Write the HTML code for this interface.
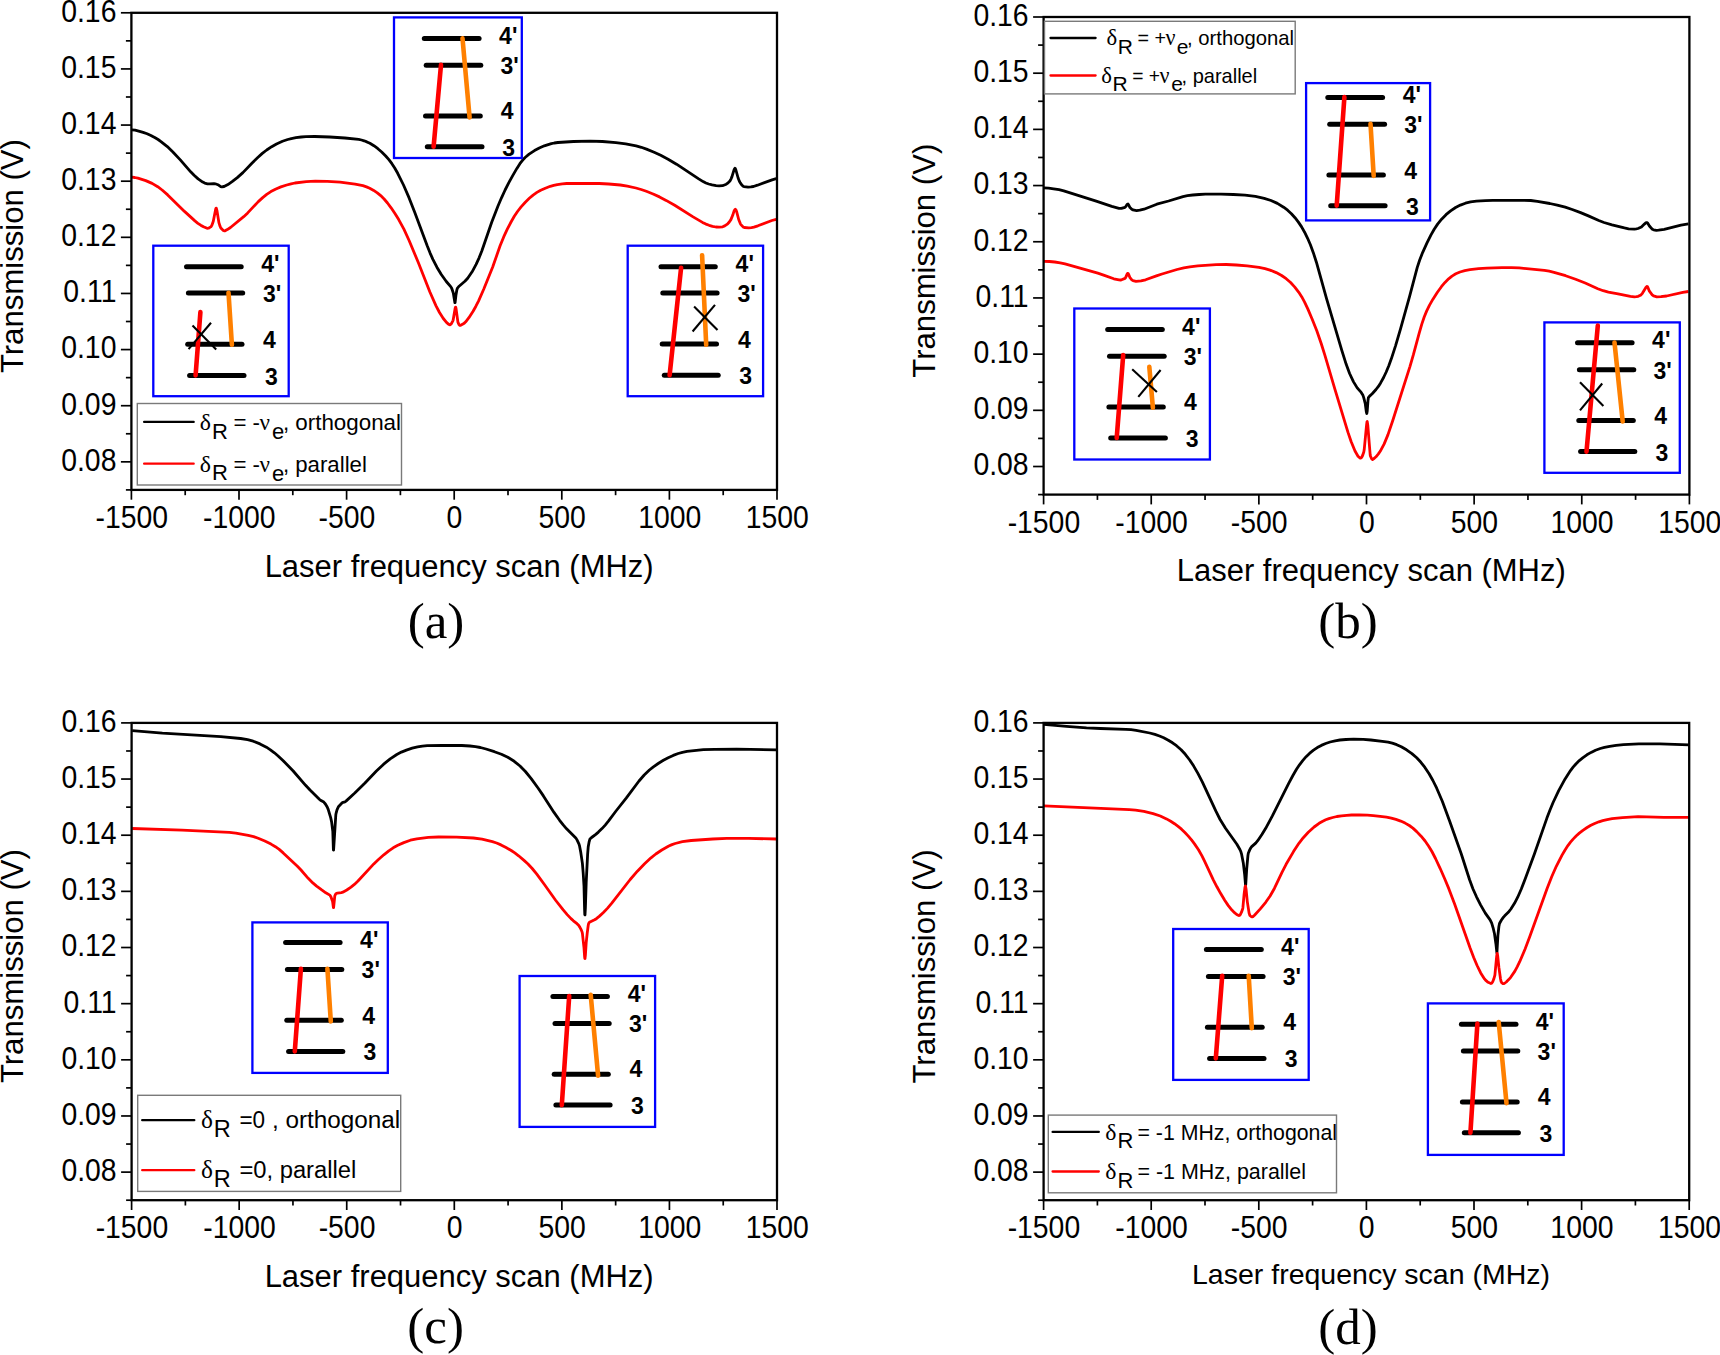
<!DOCTYPE html><html><head><meta charset="utf-8"><style>html,body{margin:0;padding:0;background:#fff;width:1720px;height:1355px;overflow:hidden}svg{display:block}</style></head><body>
<svg width="1720" height="1355" viewBox="0 0 1720 1355">
<rect width="1720" height="1355" fill="#fff"/>
<path d="M131.9,129.8 L135.1,130.2 L138.7,131.1 L143.1,132.4 L147.1,133.8 L150.9,135.5 L154.7,137.5 L158.1,139.5 L161.3,141.8 L167.3,146.6 L172.9,152.0 L180.3,159.9 L190.7,171.8 L194.1,175.3 L198.1,178.9 L202.7,182.1 L204.7,183.1 L207.5,183.8 L209.9,183.9 L213.9,183.6 L215.3,183.8 L217.9,184.7 L220.7,186.6 L221.9,186.9 L224.1,186.5 L227.9,184.6 L232.1,181.7 L237.3,177.6 L242.9,172.6 L251.9,163.2 L257.5,157.7 L262.3,153.4 L266.7,150.0 L271.7,146.7 L276.5,144.0 L282.5,141.3 L287.7,139.5 L291.3,138.6 L295.9,137.7 L301.3,137.0 L305.9,136.6 L314.7,136.5 L329.7,137.0 L344.9,138.0 L358.7,139.4 L361.5,140.0 L364.1,140.8 L366.9,141.9 L369.9,143.3 L373.9,145.7 L377.9,148.7 L381.7,152.0 L385.7,156.0 L388.9,159.7 L391.9,163.7 L394.7,168.0 L397.7,173.3 L403.5,185.0 L409.1,197.9 L414.7,212.2 L427.1,245.6 L430.1,253.1 L432.9,259.3 L436.9,267.2 L441.3,274.5 L446.3,281.5 L450.7,286.6 L451.7,288.3 L453.3,293.0 L454.9,302.7 L455.1,302.7 L455.9,295.5 L456.7,290.7 L457.3,288.3 L459.1,286.2 L464.9,281.3 L467.7,278.2 L472.1,271.8 L476.1,264.4 L479.1,257.8 L481.9,250.8 L491.7,222.3 L497.9,206.2 L501.5,197.8 L505.1,190.0 L508.7,182.9 L512.7,175.6 L516.9,168.4 L519.9,163.7 L522.5,160.3 L525.1,157.5 L529.1,154.2 L534.5,150.6 L539.3,148.0 L544.3,145.8 L551.3,143.6 L554.3,143.0 L557.9,142.5 L573.5,141.5 L590.3,141.2 L602.5,141.5 L615.9,142.6 L625.7,143.9 L636.1,145.9 L641.3,147.3 L646.5,149.1 L654.1,152.2 L660.7,155.3 L668.1,159.2 L676.5,164.2 L698.7,178.9 L703.1,181.6 L705.9,183.0 L708.7,184.0 L712.1,184.9 L716.1,185.6 L719.1,185.9 L722.5,185.7 L726.3,184.2 L728.1,182.9 L729.9,181.0 L731.1,178.8 L731.9,176.9 L734.1,169.7 L734.5,168.8 L734.9,168.3 L735.3,168.5 L735.9,170.0 L738.1,178.0 L739.5,181.5 L740.3,182.9 L742.1,185.3 L743.1,186.2 L743.9,186.6 L748.1,187.1 L750.9,186.9 L753.5,186.5 L757.5,185.2 L772.1,179.9 L776.2,178.7" fill="none" stroke="#000" stroke-width="2.8" stroke-linejoin="round" stroke-linecap="butt"/>
<path d="M131.9,177.1 L134.7,177.5 L137.9,178.2 L145.7,180.6 L152.1,183.4 L157.7,186.7 L162.1,190.0 L167.7,194.9 L184.5,211.4 L194.9,220.9 L197.9,223.3 L200.7,225.2 L203.5,226.8 L207.1,228.3 L208.5,228.2 L210.7,226.9 L211.3,226.3 L211.9,225.2 L213.3,221.2 L215.7,209.1 L216.1,208.1 L216.3,208.1 L216.9,210.3 L218.9,222.6 L219.9,225.9 L220.7,227.7 L221.3,228.6 L223.3,230.5 L224.5,230.9 L225.1,230.8 L227.3,229.6 L230.5,227.5 L243.7,216.7 L247.7,212.9 L258.3,201.6 L262.7,197.6 L266.7,194.4 L270.9,191.6 L275.9,189.0 L280.9,186.9 L286.7,185.0 L291.1,183.8 L294.9,183.0 L306.3,181.6 L315.3,181.1 L327.3,181.3 L340.1,182.2 L355.1,184.1 L362.9,185.7 L366.5,186.9 L369.7,188.2 L373.7,190.4 L377.3,192.8 L380.7,195.6 L384.1,199.0 L387.5,203.0 L391.1,207.8 L395.1,213.8 L398.7,219.6 L403.9,229.2 L409.1,240.5 L418.5,263.0 L429.9,292.0 L435.9,305.6 L439.5,312.5 L443.3,318.5 L446.7,322.7 L448.5,324.2 L449.7,324.8 L450.5,324.6 L451.3,323.8 L453.1,320.3 L455.1,308.4 L455.5,307.1 L455.7,307.1 L456.1,308.9 L457.9,322.1 L458.9,324.4 L459.9,325.4 L460.7,325.3 L462.9,324.1 L464.5,323.0 L465.7,321.8 L468.9,317.7 L473.1,311.2 L475.9,306.2 L478.5,301.1 L483.7,289.3 L492.7,267.0 L500.1,245.8 L503.7,236.9 L507.3,229.2 L511.3,221.5 L514.3,216.3 L517.5,211.5 L521.1,206.9 L525.3,202.2 L529.3,198.3 L533.1,195.1 L536.9,192.4 L540.7,190.2 L545.3,188.2 L550.3,186.3 L553.7,185.4 L557.3,184.6 L562.3,183.9 L566.7,183.5 L571.1,183.4 L599.3,183.5 L608.7,184.0 L620.3,185.0 L627.3,186.2 L635.9,188.0 L641.1,189.5 L646.3,191.3 L653.1,194.0 L659.5,196.9 L666.1,200.4 L674.7,205.3 L693.1,216.9 L702.5,222.4 L705.9,224.1 L709.1,225.3 L712.5,226.3 L715.9,227.0 L719.1,227.2 L722.7,226.8 L724.7,225.9 L727.7,223.8 L729.3,222.0 L730.9,219.6 L732.7,215.3 L734.1,210.9 L734.7,209.8 L735.3,209.3 L735.9,209.8 L736.5,211.2 L738.7,219.5 L740.3,223.6 L740.9,224.6 L742.5,226.3 L743.5,227.2 L744.3,227.5 L748.7,227.9 L751.5,227.6 L753.9,227.1 L757.9,225.8 L771.9,220.5 L776.2,219.3" fill="none" stroke="#ff0000" stroke-width="2.8" stroke-linejoin="round" stroke-linecap="butt"/>
<path d="M1043.8,187.9 L1048.6,188.2 L1053.6,188.8 L1059.0,189.7 L1063.8,190.9 L1096.2,201.1 L1111.8,206.3 L1119.0,208.3 L1120.2,208.4 L1121.4,208.4 L1125.0,207.3 L1125.6,206.7 L1127.2,204.4 L1127.6,204.1 L1128.0,204.0 L1128.6,204.8 L1130.0,207.6 L1131.8,209.3 L1133.0,209.9 L1136.6,210.6 L1139.8,210.2 L1144.0,209.2 L1156.8,204.2 L1168.6,201.0 L1183.0,196.6 L1187.4,195.7 L1192.8,195.0 L1199.2,194.5 L1205.4,194.2 L1221.0,194.1 L1233.4,194.5 L1245.0,195.2 L1255.4,196.4 L1264.2,198.3 L1271.0,200.5 L1277.4,203.4 L1283.6,207.2 L1287.6,210.2 L1291.4,213.7 L1295.0,217.7 L1298.4,222.1 L1301.6,226.9 L1304.6,232.2 L1307.6,238.3 L1310.4,244.8 L1313.4,252.9 L1316.4,262.2 L1326.4,298.2 L1341.8,350.3 L1346.2,364.3 L1349.6,373.5 L1353.4,381.6 L1357.2,387.9 L1361.2,392.4 L1362.8,394.9 L1363.8,397.9 L1365.2,403.3 L1366.4,412.2 L1366.8,413.5 L1367.2,411.3 L1368.0,400.5 L1368.4,397.6 L1369.6,396.1 L1372.2,393.8 L1376.0,389.5 L1378.4,386.4 L1380.6,382.9 L1383.6,377.5 L1386.2,372.0 L1388.8,365.7 L1391.4,358.6 L1395.6,345.6 L1400.6,328.6 L1409.6,296.4 L1417.2,267.6 L1419.6,260.2 L1422.6,252.6 L1427.0,242.9 L1431.0,234.9 L1434.2,229.2 L1437.6,224.1 L1441.6,219.2 L1446.0,214.7 L1450.6,210.9 L1455.6,207.5 L1460.4,205.1 L1465.4,203.2 L1470.6,201.9 L1476.4,201.2 L1485.4,200.6 L1492.8,200.3 L1524.2,200.3 L1530.8,200.5 L1537.4,201.3 L1549.8,203.5 L1557.2,205.1 L1565.2,207.2 L1572.2,209.5 L1580.6,212.6 L1587.8,215.6 L1598.8,220.5 L1604.0,222.5 L1612.0,224.8 L1624.4,227.9 L1628.6,228.8 L1634.4,229.1 L1636.2,228.9 L1638.0,228.5 L1641.4,227.0 L1644.4,224.1 L1645.8,222.9 L1646.6,222.6 L1647.2,222.7 L1647.6,223.1 L1649.4,226.0 L1652.2,229.2 L1653.6,229.8 L1656.4,230.3 L1658.6,230.2 L1664.2,229.3 L1681.0,225.1 L1688.4,223.9" fill="none" stroke="#000" stroke-width="2.8" stroke-linejoin="round" stroke-linecap="butt"/>
<path d="M1043.8,261.3 L1049.4,261.5 L1054.8,262.0 L1060.2,262.8 L1065.0,263.9 L1097.8,273.2 L1103.6,275.1 L1113.8,278.8 L1119.0,279.9 L1120.4,280.0 L1121.6,279.8 L1125.0,278.4 L1125.6,277.6 L1127.2,273.9 L1127.6,273.4 L1128.0,273.3 L1128.6,274.2 L1130.0,277.7 L1131.8,279.9 L1133.0,280.7 L1136.0,281.4 L1141.0,280.9 L1145.6,279.8 L1156.4,275.9 L1162.0,274.0 L1177.0,269.5 L1183.8,267.8 L1189.8,266.8 L1197.8,265.8 L1216.2,264.7 L1226.2,264.5 L1236.4,265.0 L1247.2,265.9 L1259.0,267.4 L1265.0,268.6 L1270.0,270.1 L1276.2,272.6 L1281.6,275.5 L1286.2,278.7 L1290.6,282.5 L1294.8,287.1 L1298.8,292.3 L1301.8,296.9 L1304.6,302.1 L1307.8,308.9 L1312.0,318.7 L1316.8,330.8 L1321.2,343.5 L1325.0,355.7 L1334.8,388.8 L1348.0,432.4 L1351.2,441.8 L1355.0,451.0 L1358.0,456.2 L1360.0,458.1 L1360.6,458.2 L1361.2,457.8 L1361.8,457.1 L1362.6,455.5 L1363.8,452.0 L1364.2,449.8 L1366.6,424.6 L1367.0,421.8 L1367.2,421.5 L1367.8,425.3 L1370.2,455.0 L1370.4,456.0 L1371.4,458.3 L1372.0,459.1 L1372.6,459.5 L1373.6,458.9 L1376.0,456.8 L1378.4,453.9 L1380.2,451.3 L1384.2,443.9 L1388.0,434.6 L1392.6,421.0 L1410.0,366.3 L1413.4,354.7 L1419.2,333.1 L1421.8,324.1 L1424.2,317.0 L1426.6,311.1 L1429.4,305.4 L1432.8,299.4 L1437.4,292.2 L1441.4,286.7 L1445.0,282.4 L1448.6,278.8 L1452.0,276.1 L1455.8,273.8 L1460.0,272.0 L1464.8,270.6 L1470.0,269.7 L1478.6,268.7 L1487.0,268.1 L1502.0,267.6 L1511.6,267.6 L1519.2,267.9 L1544.4,270.4 L1549.2,271.2 L1554.0,272.3 L1565.6,275.7 L1575.6,279.2 L1585.2,283.0 L1597.8,288.7 L1603.2,290.7 L1608.4,292.1 L1618.0,293.8 L1630.4,296.4 L1634.4,296.8 L1636.4,296.7 L1638.2,296.3 L1641.0,294.9 L1642.4,293.3 L1646.2,287.0 L1647.0,286.4 L1647.4,286.6 L1647.8,287.3 L1649.4,291.2 L1652.2,294.8 L1653.6,295.9 L1656.8,296.8 L1661.0,296.7 L1666.6,296.0 L1682.8,292.4 L1688.4,291.5" fill="none" stroke="#ff0000" stroke-width="2.8" stroke-linejoin="round" stroke-linecap="butt"/>
<path d="M132.2,730.7 L162.4,733.2 L220.8,736.7 L240.6,738.5 L247.6,739.7 L253.2,741.2 L260.0,743.9 L266.4,747.2 L270.4,749.8 L274.4,752.8 L278.4,756.2 L283.2,760.7 L293.2,771.0 L305.6,785.3 L310.0,790.0 L319.6,799.5 L321.0,800.6 L323.8,802.1 L325.4,804.0 L327.2,807.0 L328.2,809.4 L330.6,817.3 L331.6,821.9 L332.8,831.3 L333.4,849.9 L333.6,850.0 L335.8,815.0 L336.0,813.6 L337.0,809.9 L338.4,806.7 L342.2,802.8 L343.2,802.3 L345.0,801.8 L346.0,801.1 L354.8,793.0 L365.0,783.0 L376.4,771.0 L383.4,764.4 L390.2,758.8 L396.8,754.5 L401.4,752.1 L406.4,750.1 L412.2,748.2 L417.6,746.9 L422.4,746.1 L427.2,745.6 L442.2,745.3 L461.8,745.5 L470.0,746.0 L475.4,746.6 L480.4,747.5 L486.0,749.0 L494.4,751.7 L501.4,754.2 L507.8,757.3 L514.2,761.3 L520.0,766.0 L525.4,771.5 L531.2,778.6 L538.2,788.2 L543.4,795.9 L554.0,812.4 L559.6,820.3 L563.2,824.9 L566.6,828.8 L575.8,837.9 L577.0,839.9 L579.0,844.1 L579.6,846.2 L580.8,852.6 L582.4,863.4 L583.2,873.1 L584.0,886.2 L584.6,909.9 L584.8,914.8 L585.0,914.9 L585.4,907.4 L586.2,882.4 L587.6,854.7 L588.2,847.1 L589.0,842.4 L589.8,839.4 L590.2,838.8 L591.6,837.5 L595.8,834.4 L598.4,832.1 L602.0,828.6 L605.2,825.1 L608.6,820.9 L616.0,811.0 L626.2,798.2 L639.0,781.0 L644.2,775.0 L649.4,770.0 L653.4,766.8 L658.2,763.5 L663.4,760.3 L668.2,757.7 L673.2,755.4 L678.2,753.5 L682.4,752.3 L687.0,751.4 L703.4,749.7 L714.6,749.3 L736.6,749.2 L776.3,749.9" fill="none" stroke="#000" stroke-width="2.8" stroke-linejoin="round" stroke-linecap="butt"/>
<path d="M132.2,828.5 L182.0,830.1 L229.4,832.4 L235.8,833.2 L248.2,835.4 L253.6,836.6 L258.2,838.2 L264.8,841.0 L271.0,844.1 L275.4,846.7 L279.2,849.4 L283.2,852.9 L297.4,866.2 L301.0,870.0 L308.2,878.3 L312.8,882.9 L316.6,886.1 L321.4,889.7 L325.8,892.8 L329.8,895.1 L331.0,897.0 L332.6,901.5 L333.4,907.5 L333.6,907.5 L334.8,895.8 L335.6,894.2 L336.2,893.5 L337.4,893.1 L341.4,892.6 L342.8,892.2 L346.8,890.0 L351.0,887.1 L354.4,884.4 L358.0,881.0 L373.8,863.9 L378.2,859.7 L383.8,854.8 L388.8,850.8 L393.2,847.8 L397.8,845.3 L403.8,842.6 L410.4,840.2 L416.8,838.8 L428.4,837.4 L438.6,837.0 L456.6,837.1 L473.4,838.0 L482.0,839.2 L492.4,841.7 L496.6,843.0 L501.0,844.9 L506.0,847.5 L511.2,850.5 L514.8,852.9 L518.6,855.8 L524.0,860.4 L528.0,864.0 L532.2,868.5 L536.8,874.2 L544.4,884.5 L555.8,900.5 L563.0,909.7 L567.2,914.6 L571.0,918.6 L573.4,920.8 L577.0,923.7 L578.6,925.3 L579.8,927.1 L581.0,929.4 L582.0,931.7 L582.4,933.4 L584.0,947.8 L584.6,956.7 L584.8,958.4 L585.0,958.5 L585.4,955.0 L586.2,942.7 L587.2,933.3 L588.2,925.5 L588.6,923.6 L589.0,922.8 L590.0,921.9 L594.6,919.8 L596.4,918.7 L599.2,916.4 L603.4,912.5 L607.6,908.1 L611.8,903.2 L630.2,879.5 L637.4,871.2 L644.6,863.8 L651.0,857.8 L655.8,854.0 L661.8,850.0 L668.8,846.0 L672.0,844.6 L675.2,843.5 L682.4,841.7 L691.2,840.5 L712.8,839.0 L726.8,838.4 L748.6,838.4 L776.3,839.0" fill="none" stroke="#ff0000" stroke-width="2.8" stroke-linejoin="round" stroke-linecap="butt"/>
<path d="M1043.7,724.3 L1066.5,726.3 L1086.5,727.8 L1100.5,728.5 L1125.9,729.3 L1131.1,729.7 L1136.1,730.3 L1149.7,733.0 L1154.9,734.4 L1159.5,736.0 L1163.7,737.7 L1168.3,740.2 L1172.5,742.8 L1176.5,745.7 L1181.1,749.7 L1185.3,754.3 L1189.7,760.0 L1193.7,766.1 L1197.9,773.4 L1202.3,781.9 L1215.9,811.2 L1220.1,819.5 L1225.5,828.2 L1236.9,844.3 L1239.9,849.5 L1240.9,851.8 L1241.5,853.8 L1243.3,862.9 L1244.7,874.8 L1245.5,884.7 L1245.7,884.8 L1246.7,868.8 L1247.9,855.8 L1248.3,853.3 L1249.7,849.9 L1250.7,848.0 L1251.7,846.6 L1255.7,843.1 L1257.7,840.7 L1261.9,834.5 L1265.7,828.3 L1272.5,815.7 L1288.7,783.3 L1292.9,775.5 L1296.5,769.3 L1299.5,764.8 L1302.7,760.6 L1306.1,756.7 L1309.5,753.4 L1313.5,750.2 L1317.3,747.6 L1321.3,745.4 L1325.7,743.5 L1330.1,742.0 L1335.1,740.8 L1339.9,740.0 L1345.9,739.5 L1353.7,739.2 L1363.3,739.4 L1370.9,740.0 L1382.3,741.3 L1388.1,742.2 L1392.3,743.2 L1396.7,744.7 L1401.3,746.8 L1406.5,749.8 L1411.9,753.6 L1416.7,757.8 L1420.9,762.3 L1424.9,767.4 L1429.1,773.8 L1432.9,780.5 L1436.7,788.2 L1442.3,801.3 L1449.5,820.8 L1461.3,854.0 L1469.5,879.5 L1472.9,888.7 L1476.5,896.8 L1480.7,905.1 L1485.3,913.1 L1490.1,919.9 L1491.7,923.2 L1493.1,927.8 L1494.5,933.7 L1495.9,943.7 L1496.9,952.8 L1497.9,935.3 L1498.9,926.5 L1499.5,923.5 L1501.3,920.3 L1503.3,917.4 L1504.7,915.8 L1508.3,912.3 L1510.9,909.0 L1514.5,903.3 L1517.7,897.2 L1521.3,889.0 L1525.9,877.1 L1534.3,854.2 L1546.9,818.1 L1550.1,809.7 L1553.1,802.5 L1558.7,790.6 L1565.1,778.9 L1570.5,770.6 L1573.1,767.2 L1575.9,764.0 L1579.3,760.6 L1582.7,757.8 L1586.9,754.8 L1591.1,752.4 L1595.5,750.3 L1600.3,748.5 L1604.5,747.3 L1609.7,746.3 L1616.1,745.4 L1623.5,744.6 L1638.9,743.8 L1659.9,743.9 L1689.1,744.9" fill="none" stroke="#000" stroke-width="2.8" stroke-linejoin="round" stroke-linecap="butt"/>
<path d="M1043.7,805.9 L1129.3,809.7 L1135.5,810.2 L1143.9,811.4 L1153.1,813.6 L1160.3,816.0 L1166.5,818.9 L1170.7,821.3 L1174.5,823.7 L1178.1,826.4 L1181.5,829.2 L1184.9,832.5 L1188.3,836.1 L1191.5,839.9 L1194.5,843.9 L1198.5,849.8 L1202.1,856.1 L1204.9,861.8 L1213.3,879.8 L1216.9,886.8 L1220.7,893.6 L1224.7,900.2 L1228.3,905.6 L1231.9,910.1 L1234.5,912.7 L1236.7,914.5 L1238.7,915.5 L1239.1,915.6 L1239.7,915.3 L1240.3,914.6 L1241.5,912.2 L1242.7,908.8 L1242.9,907.7 L1244.1,894.2 L1244.9,887.9 L1245.3,886.1 L1245.5,885.9 L1246.1,889.3 L1247.3,901.6 L1249.1,913.1 L1249.9,915.5 L1251.1,916.5 L1252.1,916.9 L1252.9,916.6 L1254.5,915.2 L1260.3,908.9 L1265.7,902.3 L1270.1,896.0 L1274.5,888.2 L1282.1,872.1 L1286.1,864.3 L1293.5,851.6 L1298.9,843.3 L1303.3,837.7 L1308.3,832.3 L1314.1,827.0 L1319.1,823.3 L1322.3,821.5 L1325.7,819.8 L1328.9,818.6 L1332.7,817.5 L1336.9,816.5 L1341.5,815.8 L1346.7,815.3 L1351.5,815.0 L1359.3,815.0 L1367.3,815.2 L1373.3,815.6 L1380.1,816.3 L1386.5,817.2 L1391.3,818.2 L1395.9,819.4 L1400.7,821.1 L1405.1,823.1 L1409.3,825.5 L1412.9,828.1 L1416.7,831.6 L1421.1,836.2 L1425.1,841.0 L1428.7,846.2 L1431.9,851.5 L1435.5,858.5 L1440.1,868.3 L1444.9,879.2 L1448.9,888.9 L1454.7,904.3 L1470.1,948.0 L1473.7,957.5 L1477.1,965.5 L1480.7,972.9 L1484.5,978.9 L1486.1,980.7 L1488.1,982.3 L1490.9,983.5 L1491.7,983.2 L1492.7,981.8 L1493.7,979.3 L1494.9,975.2 L1496.7,955.9 L1497.1,953.4 L1497.3,953.6 L1497.7,955.9 L1498.9,967.4 L1500.5,978.8 L1501.1,981.6 L1501.9,982.9 L1502.9,983.6 L1503.7,983.7 L1504.3,983.5 L1506.3,982.0 L1508.7,979.6 L1510.7,977.3 L1514.9,971.1 L1517.3,966.7 L1519.7,961.7 L1525.1,949.0 L1529.9,936.3 L1547.1,888.5 L1551.7,876.8 L1556.3,866.3 L1561.9,855.4 L1564.9,850.2 L1567.9,845.6 L1570.5,842.1 L1573.1,839.1 L1576.1,836.0 L1579.3,833.1 L1582.9,830.3 L1587.1,827.5 L1590.9,825.3 L1594.7,823.5 L1598.9,821.8 L1602.7,820.6 L1607.1,819.6 L1612.1,818.7 L1622.5,817.6 L1638.1,816.7 L1663.9,817.3 L1689.1,817.4" fill="none" stroke="#ff0000" stroke-width="2.8" stroke-linejoin="round" stroke-linecap="butt"/>
<rect x="131.40" y="12.80" width="645.60" height="477.10" fill="none" stroke="#000" stroke-width="2.30"/>
<line x1="125.90" y1="489.90" x2="131.40" y2="489.90" stroke="#000" stroke-width="1.70" stroke-linecap="butt"/>
<line x1="120.90" y1="461.84" x2="131.40" y2="461.84" stroke="#000" stroke-width="1.70" stroke-linecap="butt"/>
<text transform="translate(116.40 470.74) scale(0.93 1)" font-family='"Liberation Sans", sans-serif' font-size="30.5" text-anchor="end">0.08</text>
<line x1="125.90" y1="433.77" x2="131.40" y2="433.77" stroke="#000" stroke-width="1.70" stroke-linecap="butt"/>
<line x1="120.90" y1="405.71" x2="131.40" y2="405.71" stroke="#000" stroke-width="1.70" stroke-linecap="butt"/>
<text transform="translate(116.40 414.61) scale(0.93 1)" font-family='"Liberation Sans", sans-serif' font-size="30.5" text-anchor="end">0.09</text>
<line x1="125.90" y1="377.64" x2="131.40" y2="377.64" stroke="#000" stroke-width="1.70" stroke-linecap="butt"/>
<line x1="120.90" y1="349.58" x2="131.40" y2="349.58" stroke="#000" stroke-width="1.70" stroke-linecap="butt"/>
<text transform="translate(116.40 358.48) scale(0.93 1)" font-family='"Liberation Sans", sans-serif' font-size="30.5" text-anchor="end">0.10</text>
<line x1="125.90" y1="321.51" x2="131.40" y2="321.51" stroke="#000" stroke-width="1.70" stroke-linecap="butt"/>
<line x1="120.90" y1="293.45" x2="131.40" y2="293.45" stroke="#000" stroke-width="1.70" stroke-linecap="butt"/>
<text transform="translate(116.40 302.35) scale(0.93 1)" font-family='"Liberation Sans", sans-serif' font-size="30.5" text-anchor="end">0.11</text>
<line x1="125.90" y1="265.38" x2="131.40" y2="265.38" stroke="#000" stroke-width="1.70" stroke-linecap="butt"/>
<line x1="120.90" y1="237.32" x2="131.40" y2="237.32" stroke="#000" stroke-width="1.70" stroke-linecap="butt"/>
<text transform="translate(116.40 246.22) scale(0.93 1)" font-family='"Liberation Sans", sans-serif' font-size="30.5" text-anchor="end">0.12</text>
<line x1="125.90" y1="209.25" x2="131.40" y2="209.25" stroke="#000" stroke-width="1.70" stroke-linecap="butt"/>
<line x1="120.90" y1="181.19" x2="131.40" y2="181.19" stroke="#000" stroke-width="1.70" stroke-linecap="butt"/>
<text transform="translate(116.40 190.09) scale(0.93 1)" font-family='"Liberation Sans", sans-serif' font-size="30.5" text-anchor="end">0.13</text>
<line x1="125.90" y1="153.12" x2="131.40" y2="153.12" stroke="#000" stroke-width="1.70" stroke-linecap="butt"/>
<line x1="120.90" y1="125.06" x2="131.40" y2="125.06" stroke="#000" stroke-width="1.70" stroke-linecap="butt"/>
<text transform="translate(116.40 133.96) scale(0.93 1)" font-family='"Liberation Sans", sans-serif' font-size="30.5" text-anchor="end">0.14</text>
<line x1="125.90" y1="96.99" x2="131.40" y2="96.99" stroke="#000" stroke-width="1.70" stroke-linecap="butt"/>
<line x1="120.90" y1="68.93" x2="131.40" y2="68.93" stroke="#000" stroke-width="1.70" stroke-linecap="butt"/>
<text transform="translate(116.40 77.83) scale(0.93 1)" font-family='"Liberation Sans", sans-serif' font-size="30.5" text-anchor="end">0.15</text>
<line x1="125.90" y1="40.86" x2="131.40" y2="40.86" stroke="#000" stroke-width="1.70" stroke-linecap="butt"/>
<line x1="120.90" y1="12.80" x2="131.40" y2="12.80" stroke="#000" stroke-width="1.70" stroke-linecap="butt"/>
<text transform="translate(116.40 21.70) scale(0.93 1)" font-family='"Liberation Sans", sans-serif' font-size="30.5" text-anchor="end">0.16</text>
<line x1="131.40" y1="489.90" x2="131.40" y2="499.70" stroke="#000" stroke-width="1.70" stroke-linecap="butt"/>
<text transform="translate(131.70 527.80) scale(0.93 1)" font-family='"Liberation Sans", sans-serif' font-size="30.5" text-anchor="middle">-1500</text>
<line x1="185.20" y1="489.90" x2="185.20" y2="495.20" stroke="#000" stroke-width="1.70" stroke-linecap="butt"/>
<line x1="239.00" y1="489.90" x2="239.00" y2="499.70" stroke="#000" stroke-width="1.70" stroke-linecap="butt"/>
<text transform="translate(239.30 527.80) scale(0.93 1)" font-family='"Liberation Sans", sans-serif' font-size="30.5" text-anchor="middle">-1000</text>
<line x1="292.80" y1="489.90" x2="292.80" y2="495.20" stroke="#000" stroke-width="1.70" stroke-linecap="butt"/>
<line x1="346.60" y1="489.90" x2="346.60" y2="499.70" stroke="#000" stroke-width="1.70" stroke-linecap="butt"/>
<text transform="translate(346.90 527.80) scale(0.93 1)" font-family='"Liberation Sans", sans-serif' font-size="30.5" text-anchor="middle">-500</text>
<line x1="400.40" y1="489.90" x2="400.40" y2="495.20" stroke="#000" stroke-width="1.70" stroke-linecap="butt"/>
<line x1="454.20" y1="489.90" x2="454.20" y2="499.70" stroke="#000" stroke-width="1.70" stroke-linecap="butt"/>
<text transform="translate(454.50 527.80) scale(0.93 1)" font-family='"Liberation Sans", sans-serif' font-size="30.5" text-anchor="middle">0</text>
<line x1="508.00" y1="489.90" x2="508.00" y2="495.20" stroke="#000" stroke-width="1.70" stroke-linecap="butt"/>
<line x1="561.80" y1="489.90" x2="561.80" y2="499.70" stroke="#000" stroke-width="1.70" stroke-linecap="butt"/>
<text transform="translate(562.10 527.80) scale(0.93 1)" font-family='"Liberation Sans", sans-serif' font-size="30.5" text-anchor="middle">500</text>
<line x1="615.60" y1="489.90" x2="615.60" y2="495.20" stroke="#000" stroke-width="1.70" stroke-linecap="butt"/>
<line x1="669.40" y1="489.90" x2="669.40" y2="499.70" stroke="#000" stroke-width="1.70" stroke-linecap="butt"/>
<text transform="translate(669.70 527.80) scale(0.93 1)" font-family='"Liberation Sans", sans-serif' font-size="30.5" text-anchor="middle">1000</text>
<line x1="723.20" y1="489.90" x2="723.20" y2="495.20" stroke="#000" stroke-width="1.70" stroke-linecap="butt"/>
<line x1="777.00" y1="489.90" x2="777.00" y2="499.70" stroke="#000" stroke-width="1.70" stroke-linecap="butt"/>
<text transform="translate(777.30 527.80) scale(0.93 1)" font-family='"Liberation Sans", sans-serif' font-size="30.5" text-anchor="middle">1500</text>
<rect x="1043.60" y="17.00" width="645.80" height="477.60" fill="none" stroke="#000" stroke-width="2.30"/>
<line x1="1038.10" y1="494.60" x2="1043.60" y2="494.60" stroke="#000" stroke-width="1.70" stroke-linecap="butt"/>
<line x1="1033.10" y1="466.51" x2="1043.60" y2="466.51" stroke="#000" stroke-width="1.70" stroke-linecap="butt"/>
<text transform="translate(1028.60 475.41) scale(0.93 1)" font-family='"Liberation Sans", sans-serif' font-size="30.5" text-anchor="end">0.08</text>
<line x1="1038.10" y1="438.41" x2="1043.60" y2="438.41" stroke="#000" stroke-width="1.70" stroke-linecap="butt"/>
<line x1="1033.10" y1="410.32" x2="1043.60" y2="410.32" stroke="#000" stroke-width="1.70" stroke-linecap="butt"/>
<text transform="translate(1028.60 419.22) scale(0.93 1)" font-family='"Liberation Sans", sans-serif' font-size="30.5" text-anchor="end">0.09</text>
<line x1="1038.10" y1="382.22" x2="1043.60" y2="382.22" stroke="#000" stroke-width="1.70" stroke-linecap="butt"/>
<line x1="1033.10" y1="354.13" x2="1043.60" y2="354.13" stroke="#000" stroke-width="1.70" stroke-linecap="butt"/>
<text transform="translate(1028.60 363.03) scale(0.93 1)" font-family='"Liberation Sans", sans-serif' font-size="30.5" text-anchor="end">0.10</text>
<line x1="1038.10" y1="326.04" x2="1043.60" y2="326.04" stroke="#000" stroke-width="1.70" stroke-linecap="butt"/>
<line x1="1033.10" y1="297.94" x2="1043.60" y2="297.94" stroke="#000" stroke-width="1.70" stroke-linecap="butt"/>
<text transform="translate(1028.60 306.84) scale(0.93 1)" font-family='"Liberation Sans", sans-serif' font-size="30.5" text-anchor="end">0.11</text>
<line x1="1038.10" y1="269.85" x2="1043.60" y2="269.85" stroke="#000" stroke-width="1.70" stroke-linecap="butt"/>
<line x1="1033.10" y1="241.75" x2="1043.60" y2="241.75" stroke="#000" stroke-width="1.70" stroke-linecap="butt"/>
<text transform="translate(1028.60 250.65) scale(0.93 1)" font-family='"Liberation Sans", sans-serif' font-size="30.5" text-anchor="end">0.12</text>
<line x1="1038.10" y1="213.66" x2="1043.60" y2="213.66" stroke="#000" stroke-width="1.70" stroke-linecap="butt"/>
<line x1="1033.10" y1="185.56" x2="1043.60" y2="185.56" stroke="#000" stroke-width="1.70" stroke-linecap="butt"/>
<text transform="translate(1028.60 194.46) scale(0.93 1)" font-family='"Liberation Sans", sans-serif' font-size="30.5" text-anchor="end">0.13</text>
<line x1="1038.10" y1="157.47" x2="1043.60" y2="157.47" stroke="#000" stroke-width="1.70" stroke-linecap="butt"/>
<line x1="1033.10" y1="129.38" x2="1043.60" y2="129.38" stroke="#000" stroke-width="1.70" stroke-linecap="butt"/>
<text transform="translate(1028.60 138.28) scale(0.93 1)" font-family='"Liberation Sans", sans-serif' font-size="30.5" text-anchor="end">0.14</text>
<line x1="1038.10" y1="101.28" x2="1043.60" y2="101.28" stroke="#000" stroke-width="1.70" stroke-linecap="butt"/>
<line x1="1033.10" y1="73.19" x2="1043.60" y2="73.19" stroke="#000" stroke-width="1.70" stroke-linecap="butt"/>
<text transform="translate(1028.60 82.09) scale(0.93 1)" font-family='"Liberation Sans", sans-serif' font-size="30.5" text-anchor="end">0.15</text>
<line x1="1038.10" y1="45.09" x2="1043.60" y2="45.09" stroke="#000" stroke-width="1.70" stroke-linecap="butt"/>
<line x1="1033.10" y1="17.00" x2="1043.60" y2="17.00" stroke="#000" stroke-width="1.70" stroke-linecap="butt"/>
<text transform="translate(1028.60 25.90) scale(0.93 1)" font-family='"Liberation Sans", sans-serif' font-size="30.5" text-anchor="end">0.16</text>
<line x1="1043.60" y1="494.60" x2="1043.60" y2="504.40" stroke="#000" stroke-width="1.70" stroke-linecap="butt"/>
<text transform="translate(1043.90 532.50) scale(0.93 1)" font-family='"Liberation Sans", sans-serif' font-size="30.5" text-anchor="middle">-1500</text>
<line x1="1097.42" y1="494.60" x2="1097.42" y2="499.90" stroke="#000" stroke-width="1.70" stroke-linecap="butt"/>
<line x1="1151.23" y1="494.60" x2="1151.23" y2="504.40" stroke="#000" stroke-width="1.70" stroke-linecap="butt"/>
<text transform="translate(1151.53 532.50) scale(0.93 1)" font-family='"Liberation Sans", sans-serif' font-size="30.5" text-anchor="middle">-1000</text>
<line x1="1205.05" y1="494.60" x2="1205.05" y2="499.90" stroke="#000" stroke-width="1.70" stroke-linecap="butt"/>
<line x1="1258.87" y1="494.60" x2="1258.87" y2="504.40" stroke="#000" stroke-width="1.70" stroke-linecap="butt"/>
<text transform="translate(1259.17 532.50) scale(0.93 1)" font-family='"Liberation Sans", sans-serif' font-size="30.5" text-anchor="middle">-500</text>
<line x1="1312.68" y1="494.60" x2="1312.68" y2="499.90" stroke="#000" stroke-width="1.70" stroke-linecap="butt"/>
<line x1="1366.50" y1="494.60" x2="1366.50" y2="504.40" stroke="#000" stroke-width="1.70" stroke-linecap="butt"/>
<text transform="translate(1366.80 532.50) scale(0.93 1)" font-family='"Liberation Sans", sans-serif' font-size="30.5" text-anchor="middle">0</text>
<line x1="1420.32" y1="494.60" x2="1420.32" y2="499.90" stroke="#000" stroke-width="1.70" stroke-linecap="butt"/>
<line x1="1474.13" y1="494.60" x2="1474.13" y2="504.40" stroke="#000" stroke-width="1.70" stroke-linecap="butt"/>
<text transform="translate(1474.43 532.50) scale(0.93 1)" font-family='"Liberation Sans", sans-serif' font-size="30.5" text-anchor="middle">500</text>
<line x1="1527.95" y1="494.60" x2="1527.95" y2="499.90" stroke="#000" stroke-width="1.70" stroke-linecap="butt"/>
<line x1="1581.77" y1="494.60" x2="1581.77" y2="504.40" stroke="#000" stroke-width="1.70" stroke-linecap="butt"/>
<text transform="translate(1582.07 532.50) scale(0.93 1)" font-family='"Liberation Sans", sans-serif' font-size="30.5" text-anchor="middle">1000</text>
<line x1="1635.58" y1="494.60" x2="1635.58" y2="499.90" stroke="#000" stroke-width="1.70" stroke-linecap="butt"/>
<line x1="1689.40" y1="494.60" x2="1689.40" y2="504.40" stroke="#000" stroke-width="1.70" stroke-linecap="butt"/>
<text transform="translate(1689.70 532.50) scale(0.93 1)" font-family='"Liberation Sans", sans-serif' font-size="30.5" text-anchor="middle">1500</text>
<rect x="131.60" y="722.90" width="645.40" height="477.30" fill="none" stroke="#000" stroke-width="2.30"/>
<line x1="126.10" y1="1200.20" x2="131.60" y2="1200.20" stroke="#000" stroke-width="1.70" stroke-linecap="butt"/>
<line x1="121.10" y1="1172.12" x2="131.60" y2="1172.12" stroke="#000" stroke-width="1.70" stroke-linecap="butt"/>
<text transform="translate(116.60 1181.02) scale(0.93 1)" font-family='"Liberation Sans", sans-serif' font-size="30.5" text-anchor="end">0.08</text>
<line x1="126.10" y1="1144.05" x2="131.60" y2="1144.05" stroke="#000" stroke-width="1.70" stroke-linecap="butt"/>
<line x1="121.10" y1="1115.97" x2="131.60" y2="1115.97" stroke="#000" stroke-width="1.70" stroke-linecap="butt"/>
<text transform="translate(116.60 1124.87) scale(0.93 1)" font-family='"Liberation Sans", sans-serif' font-size="30.5" text-anchor="end">0.09</text>
<line x1="126.10" y1="1087.89" x2="131.60" y2="1087.89" stroke="#000" stroke-width="1.70" stroke-linecap="butt"/>
<line x1="121.10" y1="1059.82" x2="131.60" y2="1059.82" stroke="#000" stroke-width="1.70" stroke-linecap="butt"/>
<text transform="translate(116.60 1068.72) scale(0.93 1)" font-family='"Liberation Sans", sans-serif' font-size="30.5" text-anchor="end">0.10</text>
<line x1="126.10" y1="1031.74" x2="131.60" y2="1031.74" stroke="#000" stroke-width="1.70" stroke-linecap="butt"/>
<line x1="121.10" y1="1003.66" x2="131.60" y2="1003.66" stroke="#000" stroke-width="1.70" stroke-linecap="butt"/>
<text transform="translate(116.60 1012.56) scale(0.93 1)" font-family='"Liberation Sans", sans-serif' font-size="30.5" text-anchor="end">0.11</text>
<line x1="126.10" y1="975.59" x2="131.60" y2="975.59" stroke="#000" stroke-width="1.70" stroke-linecap="butt"/>
<line x1="121.10" y1="947.51" x2="131.60" y2="947.51" stroke="#000" stroke-width="1.70" stroke-linecap="butt"/>
<text transform="translate(116.60 956.41) scale(0.93 1)" font-family='"Liberation Sans", sans-serif' font-size="30.5" text-anchor="end">0.12</text>
<line x1="126.10" y1="919.44" x2="131.60" y2="919.44" stroke="#000" stroke-width="1.70" stroke-linecap="butt"/>
<line x1="121.10" y1="891.36" x2="131.60" y2="891.36" stroke="#000" stroke-width="1.70" stroke-linecap="butt"/>
<text transform="translate(116.60 900.26) scale(0.93 1)" font-family='"Liberation Sans", sans-serif' font-size="30.5" text-anchor="end">0.13</text>
<line x1="126.10" y1="863.28" x2="131.60" y2="863.28" stroke="#000" stroke-width="1.70" stroke-linecap="butt"/>
<line x1="121.10" y1="835.21" x2="131.60" y2="835.21" stroke="#000" stroke-width="1.70" stroke-linecap="butt"/>
<text transform="translate(116.60 844.11) scale(0.93 1)" font-family='"Liberation Sans", sans-serif' font-size="30.5" text-anchor="end">0.14</text>
<line x1="126.10" y1="807.13" x2="131.60" y2="807.13" stroke="#000" stroke-width="1.70" stroke-linecap="butt"/>
<line x1="121.10" y1="779.05" x2="131.60" y2="779.05" stroke="#000" stroke-width="1.70" stroke-linecap="butt"/>
<text transform="translate(116.60 787.95) scale(0.93 1)" font-family='"Liberation Sans", sans-serif' font-size="30.5" text-anchor="end">0.15</text>
<line x1="126.10" y1="750.98" x2="131.60" y2="750.98" stroke="#000" stroke-width="1.70" stroke-linecap="butt"/>
<line x1="121.10" y1="722.90" x2="131.60" y2="722.90" stroke="#000" stroke-width="1.70" stroke-linecap="butt"/>
<text transform="translate(116.60 731.80) scale(0.93 1)" font-family='"Liberation Sans", sans-serif' font-size="30.5" text-anchor="end">0.16</text>
<line x1="131.60" y1="1200.20" x2="131.60" y2="1210.00" stroke="#000" stroke-width="1.70" stroke-linecap="butt"/>
<text transform="translate(131.90 1238.10) scale(0.93 1)" font-family='"Liberation Sans", sans-serif' font-size="30.5" text-anchor="middle">-1500</text>
<line x1="185.38" y1="1200.20" x2="185.38" y2="1205.50" stroke="#000" stroke-width="1.70" stroke-linecap="butt"/>
<line x1="239.17" y1="1200.20" x2="239.17" y2="1210.00" stroke="#000" stroke-width="1.70" stroke-linecap="butt"/>
<text transform="translate(239.47 1238.10) scale(0.93 1)" font-family='"Liberation Sans", sans-serif' font-size="30.5" text-anchor="middle">-1000</text>
<line x1="292.95" y1="1200.20" x2="292.95" y2="1205.50" stroke="#000" stroke-width="1.70" stroke-linecap="butt"/>
<line x1="346.73" y1="1200.20" x2="346.73" y2="1210.00" stroke="#000" stroke-width="1.70" stroke-linecap="butt"/>
<text transform="translate(347.03 1238.10) scale(0.93 1)" font-family='"Liberation Sans", sans-serif' font-size="30.5" text-anchor="middle">-500</text>
<line x1="400.52" y1="1200.20" x2="400.52" y2="1205.50" stroke="#000" stroke-width="1.70" stroke-linecap="butt"/>
<line x1="454.30" y1="1200.20" x2="454.30" y2="1210.00" stroke="#000" stroke-width="1.70" stroke-linecap="butt"/>
<text transform="translate(454.60 1238.10) scale(0.93 1)" font-family='"Liberation Sans", sans-serif' font-size="30.5" text-anchor="middle">0</text>
<line x1="508.08" y1="1200.20" x2="508.08" y2="1205.50" stroke="#000" stroke-width="1.70" stroke-linecap="butt"/>
<line x1="561.87" y1="1200.20" x2="561.87" y2="1210.00" stroke="#000" stroke-width="1.70" stroke-linecap="butt"/>
<text transform="translate(562.17 1238.10) scale(0.93 1)" font-family='"Liberation Sans", sans-serif' font-size="30.5" text-anchor="middle">500</text>
<line x1="615.65" y1="1200.20" x2="615.65" y2="1205.50" stroke="#000" stroke-width="1.70" stroke-linecap="butt"/>
<line x1="669.43" y1="1200.20" x2="669.43" y2="1210.00" stroke="#000" stroke-width="1.70" stroke-linecap="butt"/>
<text transform="translate(669.73 1238.10) scale(0.93 1)" font-family='"Liberation Sans", sans-serif' font-size="30.5" text-anchor="middle">1000</text>
<line x1="723.22" y1="1200.20" x2="723.22" y2="1205.50" stroke="#000" stroke-width="1.70" stroke-linecap="butt"/>
<line x1="777.00" y1="1200.20" x2="777.00" y2="1210.00" stroke="#000" stroke-width="1.70" stroke-linecap="butt"/>
<text transform="translate(777.30 1238.10) scale(0.93 1)" font-family='"Liberation Sans", sans-serif' font-size="30.5" text-anchor="middle">1500</text>
<rect x="1043.60" y="722.90" width="645.60" height="477.30" fill="none" stroke="#000" stroke-width="2.30"/>
<line x1="1038.10" y1="1200.20" x2="1043.60" y2="1200.20" stroke="#000" stroke-width="1.70" stroke-linecap="butt"/>
<line x1="1033.10" y1="1172.12" x2="1043.60" y2="1172.12" stroke="#000" stroke-width="1.70" stroke-linecap="butt"/>
<text transform="translate(1028.60 1181.02) scale(0.93 1)" font-family='"Liberation Sans", sans-serif' font-size="30.5" text-anchor="end">0.08</text>
<line x1="1038.10" y1="1144.05" x2="1043.60" y2="1144.05" stroke="#000" stroke-width="1.70" stroke-linecap="butt"/>
<line x1="1033.10" y1="1115.97" x2="1043.60" y2="1115.97" stroke="#000" stroke-width="1.70" stroke-linecap="butt"/>
<text transform="translate(1028.60 1124.87) scale(0.93 1)" font-family='"Liberation Sans", sans-serif' font-size="30.5" text-anchor="end">0.09</text>
<line x1="1038.10" y1="1087.89" x2="1043.60" y2="1087.89" stroke="#000" stroke-width="1.70" stroke-linecap="butt"/>
<line x1="1033.10" y1="1059.82" x2="1043.60" y2="1059.82" stroke="#000" stroke-width="1.70" stroke-linecap="butt"/>
<text transform="translate(1028.60 1068.72) scale(0.93 1)" font-family='"Liberation Sans", sans-serif' font-size="30.5" text-anchor="end">0.10</text>
<line x1="1038.10" y1="1031.74" x2="1043.60" y2="1031.74" stroke="#000" stroke-width="1.70" stroke-linecap="butt"/>
<line x1="1033.10" y1="1003.66" x2="1043.60" y2="1003.66" stroke="#000" stroke-width="1.70" stroke-linecap="butt"/>
<text transform="translate(1028.60 1012.56) scale(0.93 1)" font-family='"Liberation Sans", sans-serif' font-size="30.5" text-anchor="end">0.11</text>
<line x1="1038.10" y1="975.59" x2="1043.60" y2="975.59" stroke="#000" stroke-width="1.70" stroke-linecap="butt"/>
<line x1="1033.10" y1="947.51" x2="1043.60" y2="947.51" stroke="#000" stroke-width="1.70" stroke-linecap="butt"/>
<text transform="translate(1028.60 956.41) scale(0.93 1)" font-family='"Liberation Sans", sans-serif' font-size="30.5" text-anchor="end">0.12</text>
<line x1="1038.10" y1="919.44" x2="1043.60" y2="919.44" stroke="#000" stroke-width="1.70" stroke-linecap="butt"/>
<line x1="1033.10" y1="891.36" x2="1043.60" y2="891.36" stroke="#000" stroke-width="1.70" stroke-linecap="butt"/>
<text transform="translate(1028.60 900.26) scale(0.93 1)" font-family='"Liberation Sans", sans-serif' font-size="30.5" text-anchor="end">0.13</text>
<line x1="1038.10" y1="863.28" x2="1043.60" y2="863.28" stroke="#000" stroke-width="1.70" stroke-linecap="butt"/>
<line x1="1033.10" y1="835.21" x2="1043.60" y2="835.21" stroke="#000" stroke-width="1.70" stroke-linecap="butt"/>
<text transform="translate(1028.60 844.11) scale(0.93 1)" font-family='"Liberation Sans", sans-serif' font-size="30.5" text-anchor="end">0.14</text>
<line x1="1038.10" y1="807.13" x2="1043.60" y2="807.13" stroke="#000" stroke-width="1.70" stroke-linecap="butt"/>
<line x1="1033.10" y1="779.05" x2="1043.60" y2="779.05" stroke="#000" stroke-width="1.70" stroke-linecap="butt"/>
<text transform="translate(1028.60 787.95) scale(0.93 1)" font-family='"Liberation Sans", sans-serif' font-size="30.5" text-anchor="end">0.15</text>
<line x1="1038.10" y1="750.98" x2="1043.60" y2="750.98" stroke="#000" stroke-width="1.70" stroke-linecap="butt"/>
<line x1="1033.10" y1="722.90" x2="1043.60" y2="722.90" stroke="#000" stroke-width="1.70" stroke-linecap="butt"/>
<text transform="translate(1028.60 731.80) scale(0.93 1)" font-family='"Liberation Sans", sans-serif' font-size="30.5" text-anchor="end">0.16</text>
<line x1="1043.60" y1="1200.20" x2="1043.60" y2="1210.00" stroke="#000" stroke-width="1.70" stroke-linecap="butt"/>
<text transform="translate(1043.90 1238.10) scale(0.93 1)" font-family='"Liberation Sans", sans-serif' font-size="30.5" text-anchor="middle">-1500</text>
<line x1="1097.40" y1="1200.20" x2="1097.40" y2="1205.50" stroke="#000" stroke-width="1.70" stroke-linecap="butt"/>
<line x1="1151.20" y1="1200.20" x2="1151.20" y2="1210.00" stroke="#000" stroke-width="1.70" stroke-linecap="butt"/>
<text transform="translate(1151.50 1238.10) scale(0.93 1)" font-family='"Liberation Sans", sans-serif' font-size="30.5" text-anchor="middle">-1000</text>
<line x1="1205.00" y1="1200.20" x2="1205.00" y2="1205.50" stroke="#000" stroke-width="1.70" stroke-linecap="butt"/>
<line x1="1258.80" y1="1200.20" x2="1258.80" y2="1210.00" stroke="#000" stroke-width="1.70" stroke-linecap="butt"/>
<text transform="translate(1259.10 1238.10) scale(0.93 1)" font-family='"Liberation Sans", sans-serif' font-size="30.5" text-anchor="middle">-500</text>
<line x1="1312.60" y1="1200.20" x2="1312.60" y2="1205.50" stroke="#000" stroke-width="1.70" stroke-linecap="butt"/>
<line x1="1366.40" y1="1200.20" x2="1366.40" y2="1210.00" stroke="#000" stroke-width="1.70" stroke-linecap="butt"/>
<text transform="translate(1366.70 1238.10) scale(0.93 1)" font-family='"Liberation Sans", sans-serif' font-size="30.5" text-anchor="middle">0</text>
<line x1="1420.20" y1="1200.20" x2="1420.20" y2="1205.50" stroke="#000" stroke-width="1.70" stroke-linecap="butt"/>
<line x1="1474.00" y1="1200.20" x2="1474.00" y2="1210.00" stroke="#000" stroke-width="1.70" stroke-linecap="butt"/>
<text transform="translate(1474.30 1238.10) scale(0.93 1)" font-family='"Liberation Sans", sans-serif' font-size="30.5" text-anchor="middle">500</text>
<line x1="1527.80" y1="1200.20" x2="1527.80" y2="1205.50" stroke="#000" stroke-width="1.70" stroke-linecap="butt"/>
<line x1="1581.60" y1="1200.20" x2="1581.60" y2="1210.00" stroke="#000" stroke-width="1.70" stroke-linecap="butt"/>
<text transform="translate(1581.90 1238.10) scale(0.93 1)" font-family='"Liberation Sans", sans-serif' font-size="30.5" text-anchor="middle">1000</text>
<line x1="1635.40" y1="1200.20" x2="1635.40" y2="1205.50" stroke="#000" stroke-width="1.70" stroke-linecap="butt"/>
<line x1="1689.20" y1="1200.20" x2="1689.20" y2="1210.00" stroke="#000" stroke-width="1.70" stroke-linecap="butt"/>
<text transform="translate(1689.50 1238.10) scale(0.93 1)" font-family='"Liberation Sans", sans-serif' font-size="30.5" text-anchor="middle">1500</text>
<text x="459.15" y="576.60" font-family='"Liberation Sans", sans-serif' font-size="31.00" font-weight="normal" text-anchor="middle" textLength="389.0" lengthAdjust="spacingAndGlyphs">Laser frequency scan (MHz)</text>
<text x="1371.25" y="581.10" font-family='"Liberation Sans", sans-serif' font-size="31.00" font-weight="normal" text-anchor="middle" textLength="389.0" lengthAdjust="spacingAndGlyphs">Laser frequency scan (MHz)</text>
<text x="459.15" y="1286.60" font-family='"Liberation Sans", sans-serif' font-size="31.00" font-weight="normal" text-anchor="middle" textLength="389.0" lengthAdjust="spacingAndGlyphs">Laser frequency scan (MHz)</text>
<text x="1371.00" y="1284.40" font-family='"Liberation Sans", sans-serif' font-size="28.00" font-weight="normal" text-anchor="middle" textLength="358.0" lengthAdjust="spacingAndGlyphs">Laser frequency scan (MHz)</text>
<text x="0" y="0" transform="translate(23.20 256.10) rotate(-90)" font-family='"Liberation Sans", sans-serif' font-size="32" text-anchor="middle" textLength="234" lengthAdjust="spacingAndGlyphs">Transmission (V)</text>
<text x="0" y="0" transform="translate(934.80 260.70) rotate(-90)" font-family='"Liberation Sans", sans-serif' font-size="32" text-anchor="middle" textLength="234" lengthAdjust="spacingAndGlyphs">Transmission (V)</text>
<text x="0" y="0" transform="translate(23.20 966.10) rotate(-90)" font-family='"Liberation Sans", sans-serif' font-size="32" text-anchor="middle" textLength="234" lengthAdjust="spacingAndGlyphs">Transmission (V)</text>
<text x="0" y="0" transform="translate(935.00 966.50) rotate(-90)" font-family='"Liberation Sans", sans-serif' font-size="32" text-anchor="middle" textLength="234" lengthAdjust="spacingAndGlyphs">Transmission (V)</text>
<text x="436.00" y="637.60" font-family='"Liberation Serif", serif' font-size="51.00" font-weight="normal" text-anchor="middle">(a)</text>
<text x="1348.00" y="638.00" font-family='"Liberation Serif", serif' font-size="51.00" font-weight="normal" text-anchor="middle">(b)</text>
<text x="435.60" y="1343.00" font-family='"Liberation Serif", serif' font-size="51.00" font-weight="normal" text-anchor="middle">(c)</text>
<text x="1348.00" y="1344.00" font-family='"Liberation Serif", serif' font-size="51.00" font-weight="normal" text-anchor="middle">(d)</text>
<rect x="394.00" y="17.40" width="127.80" height="140.60" fill="none" stroke="#0000ff" stroke-width="2.3"/>
<line x1="424.30" y1="38.40" x2="479.10" y2="38.40" stroke="#000" stroke-width="5.00" stroke-linecap="round"/>
<line x1="426.20" y1="65.20" x2="480.80" y2="65.20" stroke="#000" stroke-width="5.00" stroke-linecap="round"/>
<line x1="425.50" y1="116.10" x2="480.30" y2="116.10" stroke="#000" stroke-width="5.00" stroke-linecap="round"/>
<line x1="427.30" y1="146.70" x2="482.00" y2="146.70" stroke="#000" stroke-width="5.00" stroke-linecap="round"/>
<line x1="433.60" y1="146.70" x2="441.00" y2="64.90" stroke="#ff0000" stroke-width="4.60" stroke-linecap="round"/>
<line x1="462.50" y1="38.40" x2="469.60" y2="117.50" stroke="#ff8000" stroke-width="4.60" stroke-linecap="round"/>
<text x="499.10" y="43.70" font-family='"Liberation Sans", sans-serif' font-size="23.00" font-weight="bold" text-anchor="start">4'</text>
<text x="500.50" y="74.00" font-family='"Liberation Sans", sans-serif' font-size="23.00" font-weight="bold" text-anchor="start">3'</text>
<text x="500.70" y="119.20" font-family='"Liberation Sans", sans-serif' font-size="23.00" font-weight="bold" text-anchor="start">4</text>
<text x="502.20" y="155.80" font-family='"Liberation Sans", sans-serif' font-size="23.00" font-weight="bold" text-anchor="start">3</text>
<rect x="153.30" y="245.70" width="135.40" height="150.50" fill="none" stroke="#0000ff" stroke-width="2.3"/>
<line x1="186.50" y1="266.70" x2="241.20" y2="266.70" stroke="#000" stroke-width="5.00" stroke-linecap="round"/>
<line x1="188.40" y1="293.10" x2="242.70" y2="293.10" stroke="#000" stroke-width="5.00" stroke-linecap="round"/>
<line x1="187.70" y1="344.20" x2="242.00" y2="344.20" stroke="#000" stroke-width="5.00" stroke-linecap="round"/>
<line x1="189.60" y1="375.40" x2="244.00" y2="375.40" stroke="#000" stroke-width="5.00" stroke-linecap="round"/>
<line x1="195.60" y1="375.40" x2="200.40" y2="312.10" stroke="#ff0000" stroke-width="4.60" stroke-linecap="round"/>
<line x1="228.50" y1="292.70" x2="231.90" y2="344.80" stroke="#ff8000" stroke-width="4.60" stroke-linecap="round"/>
<line x1="192.50" y1="325.40" x2="216.20" y2="349.40" stroke="#000" stroke-width="2.10" stroke-linecap="butt"/>
<line x1="211.00" y1="322.70" x2="188.60" y2="349.10" stroke="#000" stroke-width="2.10" stroke-linecap="butt"/>
<text x="261.20" y="271.90" font-family='"Liberation Sans", sans-serif' font-size="23.00" font-weight="bold" text-anchor="start">4'</text>
<text x="263.00" y="302.20" font-family='"Liberation Sans", sans-serif' font-size="23.00" font-weight="bold" text-anchor="start">3'</text>
<text x="263.00" y="347.60" font-family='"Liberation Sans", sans-serif' font-size="23.00" font-weight="bold" text-anchor="start">4</text>
<text x="264.90" y="384.50" font-family='"Liberation Sans", sans-serif' font-size="23.00" font-weight="bold" text-anchor="start">3</text>
<rect x="627.70" y="245.70" width="135.40" height="150.50" fill="none" stroke="#0000ff" stroke-width="2.3"/>
<line x1="661.00" y1="266.70" x2="715.30" y2="266.70" stroke="#000" stroke-width="5.00" stroke-linecap="round"/>
<line x1="662.80" y1="293.10" x2="717.10" y2="293.10" stroke="#000" stroke-width="5.00" stroke-linecap="round"/>
<line x1="662.20" y1="343.90" x2="716.50" y2="343.90" stroke="#000" stroke-width="5.00" stroke-linecap="round"/>
<line x1="664.30" y1="375.20" x2="718.20" y2="375.20" stroke="#000" stroke-width="5.00" stroke-linecap="round"/>
<line x1="669.60" y1="375.20" x2="681.10" y2="267.70" stroke="#ff0000" stroke-width="4.60" stroke-linecap="round"/>
<line x1="702.10" y1="255.20" x2="706.20" y2="344.80" stroke="#ff8000" stroke-width="4.60" stroke-linecap="round"/>
<line x1="694.10" y1="306.40" x2="717.50" y2="330.00" stroke="#000" stroke-width="2.10" stroke-linecap="butt"/>
<line x1="715.00" y1="304.80" x2="692.60" y2="331.50" stroke="#000" stroke-width="2.10" stroke-linecap="butt"/>
<text x="735.60" y="271.90" font-family='"Liberation Sans", sans-serif' font-size="23.00" font-weight="bold" text-anchor="start">4'</text>
<text x="737.40" y="302.20" font-family='"Liberation Sans", sans-serif' font-size="23.00" font-weight="bold" text-anchor="start">3'</text>
<text x="738.00" y="347.60" font-family='"Liberation Sans", sans-serif' font-size="23.00" font-weight="bold" text-anchor="start">4</text>
<text x="739.20" y="384.20" font-family='"Liberation Sans", sans-serif' font-size="23.00" font-weight="bold" text-anchor="start">3</text>
<rect x="1306.10" y="83.10" width="124.00" height="137.30" fill="none" stroke="#0000ff" stroke-width="2.3"/>
<line x1="1327.80" y1="97.50" x2="1382.60" y2="97.50" stroke="#000" stroke-width="5.00" stroke-linecap="round"/>
<line x1="1329.70" y1="124.20" x2="1384.60" y2="124.20" stroke="#000" stroke-width="5.00" stroke-linecap="round"/>
<line x1="1328.90" y1="175.10" x2="1383.40" y2="175.10" stroke="#000" stroke-width="5.00" stroke-linecap="round"/>
<line x1="1330.70" y1="205.70" x2="1385.10" y2="205.70" stroke="#000" stroke-width="5.00" stroke-linecap="round"/>
<line x1="1336.70" y1="205.70" x2="1344.40" y2="97.00" stroke="#ff0000" stroke-width="4.60" stroke-linecap="round"/>
<line x1="1370.50" y1="123.90" x2="1373.70" y2="175.90" stroke="#ff8000" stroke-width="4.60" stroke-linecap="round"/>
<text x="1402.70" y="103.00" font-family='"Liberation Sans", sans-serif' font-size="23.00" font-weight="bold" text-anchor="start">4'</text>
<text x="1404.20" y="133.30" font-family='"Liberation Sans", sans-serif' font-size="23.00" font-weight="bold" text-anchor="start">3'</text>
<text x="1404.20" y="178.50" font-family='"Liberation Sans", sans-serif' font-size="23.00" font-weight="bold" text-anchor="start">4</text>
<text x="1405.90" y="214.70" font-family='"Liberation Sans", sans-serif' font-size="23.00" font-weight="bold" text-anchor="start">3</text>
<rect x="1074.30" y="308.50" width="135.60" height="151.00" fill="none" stroke="#0000ff" stroke-width="2.3"/>
<line x1="1107.70" y1="329.50" x2="1162.30" y2="329.50" stroke="#000" stroke-width="5.00" stroke-linecap="round"/>
<line x1="1109.50" y1="356.30" x2="1164.20" y2="356.30" stroke="#000" stroke-width="5.00" stroke-linecap="round"/>
<line x1="1108.90" y1="407.10" x2="1163.30" y2="407.10" stroke="#000" stroke-width="5.00" stroke-linecap="round"/>
<line x1="1110.70" y1="438.00" x2="1165.40" y2="438.00" stroke="#000" stroke-width="5.00" stroke-linecap="round"/>
<line x1="1116.70" y1="438.00" x2="1123.20" y2="355.00" stroke="#ff0000" stroke-width="4.60" stroke-linecap="round"/>
<line x1="1149.30" y1="366.70" x2="1152.90" y2="407.80" stroke="#ff8000" stroke-width="4.60" stroke-linecap="round"/>
<line x1="1132.20" y1="369.20" x2="1156.90" y2="391.90" stroke="#000" stroke-width="2.10" stroke-linecap="butt"/>
<line x1="1160.60" y1="370.00" x2="1138.30" y2="396.80" stroke="#000" stroke-width="2.10" stroke-linecap="butt"/>
<text x="1182.10" y="335.30" font-family='"Liberation Sans", sans-serif' font-size="23.00" font-weight="bold" text-anchor="start">4'</text>
<text x="1183.70" y="365.10" font-family='"Liberation Sans", sans-serif' font-size="23.00" font-weight="bold" text-anchor="start">3'</text>
<text x="1184.10" y="410.20" font-family='"Liberation Sans", sans-serif' font-size="23.00" font-weight="bold" text-anchor="start">4</text>
<text x="1185.80" y="447.30" font-family='"Liberation Sans", sans-serif' font-size="23.00" font-weight="bold" text-anchor="start">3</text>
<rect x="1544.40" y="322.40" width="135.40" height="150.40" fill="none" stroke="#0000ff" stroke-width="2.3"/>
<line x1="1577.50" y1="342.80" x2="1632.10" y2="342.80" stroke="#000" stroke-width="5.00" stroke-linecap="round"/>
<line x1="1579.40" y1="369.70" x2="1633.80" y2="369.70" stroke="#000" stroke-width="5.00" stroke-linecap="round"/>
<line x1="1578.80" y1="420.40" x2="1633.30" y2="420.40" stroke="#000" stroke-width="5.00" stroke-linecap="round"/>
<line x1="1580.60" y1="451.60" x2="1634.80" y2="451.60" stroke="#000" stroke-width="5.00" stroke-linecap="round"/>
<line x1="1586.50" y1="451.60" x2="1597.80" y2="325.60" stroke="#ff0000" stroke-width="4.60" stroke-linecap="round"/>
<line x1="1614.50" y1="342.60" x2="1622.70" y2="421.40" stroke="#ff8000" stroke-width="4.60" stroke-linecap="round"/>
<line x1="1580.00" y1="382.20" x2="1603.40" y2="406.00" stroke="#000" stroke-width="2.10" stroke-linecap="butt"/>
<line x1="1602.20" y1="383.50" x2="1580.00" y2="410.30" stroke="#000" stroke-width="2.10" stroke-linecap="butt"/>
<text x="1652.10" y="348.10" font-family='"Liberation Sans", sans-serif' font-size="23.00" font-weight="bold" text-anchor="start">4'</text>
<text x="1653.50" y="378.90" font-family='"Liberation Sans", sans-serif' font-size="23.00" font-weight="bold" text-anchor="start">3'</text>
<text x="1654.30" y="423.90" font-family='"Liberation Sans", sans-serif' font-size="23.00" font-weight="bold" text-anchor="start">4</text>
<text x="1655.50" y="460.90" font-family='"Liberation Sans", sans-serif' font-size="23.00" font-weight="bold" text-anchor="start">3</text>
<rect x="252.40" y="922.40" width="135.40" height="150.50" fill="none" stroke="#0000ff" stroke-width="2.3"/>
<line x1="285.60" y1="942.60" x2="340.10" y2="942.60" stroke="#000" stroke-width="5.00" stroke-linecap="round"/>
<line x1="287.40" y1="969.50" x2="341.80" y2="969.50" stroke="#000" stroke-width="5.00" stroke-linecap="round"/>
<line x1="286.80" y1="1020.20" x2="341.30" y2="1020.20" stroke="#000" stroke-width="5.00" stroke-linecap="round"/>
<line x1="288.60" y1="1051.40" x2="342.80" y2="1051.40" stroke="#000" stroke-width="5.00" stroke-linecap="round"/>
<line x1="294.80" y1="1051.40" x2="300.90" y2="968.70" stroke="#ff0000" stroke-width="4.60" stroke-linecap="round"/>
<line x1="327.40" y1="968.70" x2="330.80" y2="1021.50" stroke="#ff8000" stroke-width="4.60" stroke-linecap="round"/>
<text x="360.10" y="948.10" font-family='"Liberation Sans", sans-serif' font-size="23.00" font-weight="bold" text-anchor="start">4'</text>
<text x="361.60" y="978.30" font-family='"Liberation Sans", sans-serif' font-size="23.00" font-weight="bold" text-anchor="start">3'</text>
<text x="362.30" y="1024.00" font-family='"Liberation Sans", sans-serif' font-size="23.00" font-weight="bold" text-anchor="start">4</text>
<text x="363.60" y="1060.30" font-family='"Liberation Sans", sans-serif' font-size="23.00" font-weight="bold" text-anchor="start">3</text>
<rect x="519.60" y="976.00" width="135.50" height="150.90" fill="none" stroke="#0000ff" stroke-width="2.3"/>
<line x1="552.90" y1="996.60" x2="607.40" y2="996.60" stroke="#000" stroke-width="5.00" stroke-linecap="round"/>
<line x1="555.00" y1="1023.50" x2="609.20" y2="1023.50" stroke="#000" stroke-width="5.00" stroke-linecap="round"/>
<line x1="554.20" y1="1074.20" x2="608.30" y2="1074.20" stroke="#000" stroke-width="5.00" stroke-linecap="round"/>
<line x1="555.90" y1="1105.10" x2="610.10" y2="1105.10" stroke="#000" stroke-width="5.00" stroke-linecap="round"/>
<line x1="561.80" y1="1105.10" x2="569.20" y2="996.00" stroke="#ff0000" stroke-width="4.60" stroke-linecap="round"/>
<line x1="590.70" y1="994.70" x2="598.10" y2="1075.70" stroke="#ff8000" stroke-width="4.60" stroke-linecap="round"/>
<text x="627.70" y="1002.10" font-family='"Liberation Sans", sans-serif' font-size="23.00" font-weight="bold" text-anchor="start">4'</text>
<text x="629.00" y="1032.30" font-family='"Liberation Sans", sans-serif' font-size="23.00" font-weight="bold" text-anchor="start">3'</text>
<text x="629.60" y="1077.30" font-family='"Liberation Sans", sans-serif' font-size="23.00" font-weight="bold" text-anchor="start">4</text>
<text x="631.10" y="1114.30" font-family='"Liberation Sans", sans-serif' font-size="23.00" font-weight="bold" text-anchor="start">3</text>
<rect x="1173.20" y="929.00" width="135.50" height="150.90" fill="none" stroke="#0000ff" stroke-width="2.3"/>
<line x1="1206.40" y1="949.60" x2="1261.30" y2="949.60" stroke="#000" stroke-width="5.00" stroke-linecap="round"/>
<line x1="1208.40" y1="976.50" x2="1263.10" y2="976.50" stroke="#000" stroke-width="5.00" stroke-linecap="round"/>
<line x1="1207.40" y1="1027.20" x2="1262.20" y2="1027.20" stroke="#000" stroke-width="5.00" stroke-linecap="round"/>
<line x1="1209.60" y1="1058.40" x2="1264.00" y2="1058.40" stroke="#000" stroke-width="5.00" stroke-linecap="round"/>
<line x1="1215.80" y1="1058.40" x2="1222.20" y2="975.70" stroke="#ff0000" stroke-width="4.60" stroke-linecap="round"/>
<line x1="1248.70" y1="975.70" x2="1251.80" y2="1028.20" stroke="#ff8000" stroke-width="4.60" stroke-linecap="round"/>
<text x="1281.10" y="955.10" font-family='"Liberation Sans", sans-serif' font-size="23.00" font-weight="bold" text-anchor="start">4'</text>
<text x="1282.80" y="985.30" font-family='"Liberation Sans", sans-serif' font-size="23.00" font-weight="bold" text-anchor="start">3'</text>
<text x="1283.20" y="1030.30" font-family='"Liberation Sans", sans-serif' font-size="23.00" font-weight="bold" text-anchor="start">4</text>
<text x="1284.80" y="1067.30" font-family='"Liberation Sans", sans-serif' font-size="23.00" font-weight="bold" text-anchor="start">3</text>
<rect x="1427.90" y="1003.40" width="135.80" height="151.50" fill="none" stroke="#0000ff" stroke-width="2.3"/>
<line x1="1461.40" y1="1024.30" x2="1516.00" y2="1024.30" stroke="#000" stroke-width="5.00" stroke-linecap="round"/>
<line x1="1463.40" y1="1051.10" x2="1517.80" y2="1051.10" stroke="#000" stroke-width="5.00" stroke-linecap="round"/>
<line x1="1462.40" y1="1102.00" x2="1517.20" y2="1102.00" stroke="#000" stroke-width="5.00" stroke-linecap="round"/>
<line x1="1464.30" y1="1132.80" x2="1518.40" y2="1132.80" stroke="#000" stroke-width="5.00" stroke-linecap="round"/>
<line x1="1470.40" y1="1132.80" x2="1477.40" y2="1023.60" stroke="#ff0000" stroke-width="4.60" stroke-linecap="round"/>
<line x1="1498.70" y1="1022.10" x2="1506.50" y2="1103.20" stroke="#ff8000" stroke-width="4.60" stroke-linecap="round"/>
<text x="1535.70" y="1030.10" font-family='"Liberation Sans", sans-serif' font-size="23.00" font-weight="bold" text-anchor="start">4'</text>
<text x="1537.60" y="1060.30" font-family='"Liberation Sans", sans-serif' font-size="23.00" font-weight="bold" text-anchor="start">3'</text>
<text x="1537.80" y="1105.30" font-family='"Liberation Sans", sans-serif' font-size="23.00" font-weight="bold" text-anchor="start">4</text>
<text x="1539.40" y="1142.30" font-family='"Liberation Sans", sans-serif' font-size="23.00" font-weight="bold" text-anchor="start">3</text>
<rect x="137.30" y="403.50" width="264.20" height="81.50" fill="#fff" stroke="#7a7a7a" stroke-width="1.4"/>
<line x1="144.10" y1="421.90" x2="193.70" y2="421.90" stroke="#000" stroke-width="2.30" stroke-linecap="round"/>
<line x1="144.10" y1="463.70" x2="193.70" y2="463.70" stroke="#ff0000" stroke-width="2.30" stroke-linecap="round"/>
<text x="199.70" y="430.30" font-family='"Liberation Serif", serif' font-size="23.76" font-weight="normal" text-anchor="start">δ</text>
<text x="212.00" y="438.60" font-family='"Liberation Sans", sans-serif' font-size="22.00" font-weight="normal" text-anchor="start">R</text>
<text x="233.40" y="430.30" font-family='"Liberation Sans", sans-serif' font-size="22.00" font-weight="normal" text-anchor="start" textLength="26.6" lengthAdjust="spacingAndGlyphs">= -</text>
<text x="259.50" y="430.30" font-family='"Liberation Serif", serif' font-size="23.10" font-weight="normal" text-anchor="start">ν</text>
<text x="272.00" y="439.00" font-family='"Liberation Sans", sans-serif' font-size="22.00" font-weight="normal" text-anchor="start">e</text>
<text x="282.90" y="430.30" font-family='"Liberation Sans", sans-serif' font-size="22.00" font-weight="normal" text-anchor="start" textLength="118.1" lengthAdjust="spacingAndGlyphs">, orthogonal</text>
<text x="199.70" y="471.90" font-family='"Liberation Serif", serif' font-size="23.76" font-weight="normal" text-anchor="start">δ</text>
<text x="212.00" y="480.20" font-family='"Liberation Sans", sans-serif' font-size="22.00" font-weight="normal" text-anchor="start">R</text>
<text x="233.40" y="471.90" font-family='"Liberation Sans", sans-serif' font-size="22.00" font-weight="normal" text-anchor="start" textLength="26.6" lengthAdjust="spacingAndGlyphs">= -</text>
<text x="259.50" y="471.90" font-family='"Liberation Serif", serif' font-size="23.10" font-weight="normal" text-anchor="start">ν</text>
<text x="272.00" y="480.60" font-family='"Liberation Sans", sans-serif' font-size="22.00" font-weight="normal" text-anchor="start">e</text>
<text x="282.90" y="471.90" font-family='"Liberation Sans", sans-serif' font-size="22.00" font-weight="normal" text-anchor="start" textLength="84.0" lengthAdjust="spacingAndGlyphs">, parallel</text>
<rect x="1044.50" y="21.30" width="250.70" height="72.60" fill="#fff" stroke="#7a7a7a" stroke-width="1.4"/>
<line x1="1050.50" y1="38.00" x2="1095.60" y2="38.00" stroke="#000" stroke-width="2.30" stroke-linecap="round"/>
<line x1="1050.50" y1="75.50" x2="1095.60" y2="75.50" stroke="#ff0000" stroke-width="2.30" stroke-linecap="round"/>
<text x="1106.50" y="45.40" font-family='"Liberation Serif", serif' font-size="22.68" font-weight="normal" text-anchor="start">δ</text>
<text x="1117.80" y="53.60" font-family='"Liberation Sans", sans-serif' font-size="21.00" font-weight="normal" text-anchor="start">R</text>
<text x="1137.50" y="45.40" font-family='"Liberation Sans", sans-serif' font-size="21.00" font-weight="normal" text-anchor="start" textLength="28.5" lengthAdjust="spacingAndGlyphs">= +</text>
<text x="1165.50" y="45.40" font-family='"Liberation Serif", serif' font-size="22.05" font-weight="normal" text-anchor="start">ν</text>
<text x="1176.80" y="53.90" font-family='"Liberation Sans", sans-serif' font-size="21.00" font-weight="normal" text-anchor="start">e</text>
<text x="1187.00" y="45.40" font-family='"Liberation Sans", sans-serif' font-size="21.00" font-weight="normal" text-anchor="start" textLength="107.0" lengthAdjust="spacingAndGlyphs">, orthogonal</text>
<text x="1101.30" y="82.60" font-family='"Liberation Serif", serif' font-size="22.68" font-weight="normal" text-anchor="start">δ</text>
<text x="1112.40" y="90.80" font-family='"Liberation Sans", sans-serif' font-size="21.00" font-weight="normal" text-anchor="start">R</text>
<text x="1132.20" y="82.60" font-family='"Liberation Sans", sans-serif' font-size="21.00" font-weight="normal" text-anchor="start" textLength="27.8" lengthAdjust="spacingAndGlyphs">= +</text>
<text x="1159.50" y="82.60" font-family='"Liberation Serif", serif' font-size="22.05" font-weight="normal" text-anchor="start">ν</text>
<text x="1171.30" y="91.10" font-family='"Liberation Sans", sans-serif' font-size="21.00" font-weight="normal" text-anchor="start">e</text>
<text x="1181.50" y="82.60" font-family='"Liberation Sans", sans-serif' font-size="21.00" font-weight="normal" text-anchor="start" textLength="75.7" lengthAdjust="spacingAndGlyphs">, parallel</text>
<rect x="137.70" y="1095.30" width="263.00" height="96.10" fill="#fff" stroke="#7a7a7a" stroke-width="1.4"/>
<line x1="142.20" y1="1120.20" x2="194.30" y2="1120.20" stroke="#000" stroke-width="2.30" stroke-linecap="round"/>
<line x1="142.20" y1="1170.20" x2="194.30" y2="1170.20" stroke="#ff0000" stroke-width="2.30" stroke-linecap="round"/>
<text x="200.90" y="1128.20" font-family='"Liberation Serif", serif' font-size="25.38" font-weight="normal" text-anchor="start">δ</text>
<text x="213.80" y="1137.00" font-family='"Liberation Sans", sans-serif' font-size="23.50" font-weight="normal" text-anchor="start">R</text>
<text x="239.40" y="1128.20" font-family='"Liberation Sans", sans-serif' font-size="23.50" font-weight="normal" text-anchor="start" textLength="25.7" lengthAdjust="spacingAndGlyphs">=0</text>
<text x="272.00" y="1128.20" font-family='"Liberation Sans", sans-serif' font-size="23.50" font-weight="normal" text-anchor="start" textLength="128.2" lengthAdjust="spacingAndGlyphs">, orthogonal</text>
<text x="200.90" y="1177.80" font-family='"Liberation Serif", serif' font-size="25.38" font-weight="normal" text-anchor="start">δ</text>
<text x="213.80" y="1186.60" font-family='"Liberation Sans", sans-serif' font-size="23.50" font-weight="normal" text-anchor="start">R</text>
<text x="239.40" y="1177.80" font-family='"Liberation Sans", sans-serif' font-size="23.50" font-weight="normal" text-anchor="start" textLength="116.9" lengthAdjust="spacingAndGlyphs">=0, parallel</text>
<rect x="1048.30" y="1115.10" width="288.20" height="77.70" fill="#fff" stroke="#7a7a7a" stroke-width="1.4"/>
<line x1="1052.60" y1="1131.90" x2="1098.80" y2="1131.90" stroke="#000" stroke-width="2.30" stroke-linecap="round"/>
<line x1="1052.60" y1="1171.50" x2="1098.80" y2="1171.50" stroke="#ff0000" stroke-width="2.30" stroke-linecap="round"/>
<text x="1105.30" y="1139.80" font-family='"Liberation Serif", serif' font-size="23.76" font-weight="normal" text-anchor="start">δ</text>
<text x="1117.40" y="1148.10" font-family='"Liberation Sans", sans-serif' font-size="22.00" font-weight="normal" text-anchor="start">R</text>
<text x="1137.50" y="1139.80" font-family='"Liberation Sans", sans-serif' font-size="22.00" font-weight="normal" text-anchor="start" textLength="199.5" lengthAdjust="spacingAndGlyphs">= -1 MHz, orthogonal</text>
<text x="1105.30" y="1179.10" font-family='"Liberation Serif", serif' font-size="23.76" font-weight="normal" text-anchor="start">δ</text>
<text x="1117.40" y="1187.50" font-family='"Liberation Sans", sans-serif' font-size="22.00" font-weight="normal" text-anchor="start">R</text>
<text x="1137.50" y="1179.10" font-family='"Liberation Sans", sans-serif' font-size="22.00" font-weight="normal" text-anchor="start" textLength="168.5" lengthAdjust="spacingAndGlyphs">= -1 MHz, parallel</text>
</svg></body></html>
